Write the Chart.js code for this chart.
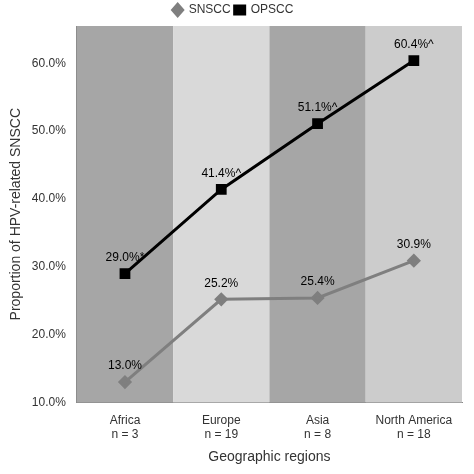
<!DOCTYPE html>
<html>
<head>
<meta charset="utf-8">
<script src="https://cdn.jsdelivr.net/npm/chart.js@4"></script>
<style>
  html, body { margin: 0; padding: 0; background: #fff; }
  #wrap { width: 474px; height: 474px; }
</style>
</head>
<body>
<div id="wrap"><canvas id="c"></canvas></div>
<script>
// data
const regions = [['Africa', 'n = 3'], ['Europe', 'n = 19'], ['Asia', 'n = 8'], ['North America', 'n = 18']];
const snscc = [13.0, 25.2, 25.4, 30.9];
const opscc = [29.0, 41.4, 51.1, 60.4];
const opsccMarks = ['*', '^', '^', '^'];
const yTicks = [10, 20, 30, 40, 50, 60];
const bandColors = ['#a6a6a6', '#d9d9d9', '#a6a6a6', '#cccccc'];

// alternating background bands behind each category
const bandsPlugin = {
    id: 'bands',
    beforeDatasetsDraw(chart) {
        const { ctx, chartArea, scales } = chart;
        const x = scales.x;
        const step = x.getPixelForValue(1) - x.getPixelForValue(0);
        ctx.save();
        regions.forEach((r, i) => {
            const cx = x.getPixelForValue(i);
            ctx.fillStyle = bandColors[i];
            ctx.fillRect(cx - step / 2, chartArea.top, step, chartArea.bottom - chartArea.top);
        });
        ctx.restore();
    }
};

// percentage labels above points
const labelsPlugin = {
    id: 'pointLabels',
    afterDatasetsDraw(chart) {
        const { ctx } = chart;
        ctx.save();
        ctx.font = '12px "Liberation Sans", Arial, sans-serif';
        ctx.fillStyle = '#000';
        ctx.textAlign = 'center';
        ctx.textBaseline = 'bottom';
        chart.data.datasets.forEach((ds, di) => {
            chart.getDatasetMeta(di).data.forEach((pt, i) => {
                let txt = ds.data[i].toFixed(1) + '%';
                if (di === 1) txt += opsccMarks[i];
                ctx.fillText(txt, pt.x, pt.y - 10);
            });
        });
        ctx.restore();
    }
};

new Chart(document.getElementById('c'), {
    type: 'line',
    data: {
        labels: regions,
        datasets: [{
            label: 'SNSCC',
            data: snscc,
            borderColor: '#7f7f7f',
            backgroundColor: '#7f7f7f',
            borderWidth: 3,
            pointStyle: 'rectRot',
            pointRadius: 5,
            pointHoverRadius: 5
        }, {
            label: 'OPSCC',
            data: opscc,
            borderColor: '#000',
            backgroundColor: '#000',
            borderWidth: 3,
            pointStyle: 'rect',
            pointRadius: 5.5,
            pointHoverRadius: 5.5
        }]
    },
    options: {
        responsive: true,
        maintainAspectRatio: false,
        animation: false,
        layout: { padding: { top: 0, right: 12, left: 4, bottom: 4 } },
        plugins: {
            legend: {
                position: 'top',
                labels: {
                    usePointStyle: true,
                    pointStyleWidth: 10,
                    boxHeight: 8,
                    padding: 4,
                    font: { size: 12, family: '"Liberation Sans", Arial, sans-serif' },
                    color: '#333'
                }
            },
            tooltip: { enabled: false }
        },
        scales: {
            x: {
                offset: true,
                grid: { display: false },
                border: { color: '#888' },
                ticks: { color: '#333', font: { size: 12, family: '"Liberation Sans", Arial, sans-serif' } },
                title: { display: true, text: 'Geographic regions', color: '#333', font: { size: 14, family: '"Liberation Sans", Arial, sans-serif' } }
            },
            y: {
                min: 10,
                max: 65.5,
                afterBuildTicks(axis) { axis.ticks = yTicks.map(v => ({ value: v })); },
                grid: { display: false },
                border: { color: '#888' },
                ticks: { color: '#333', callback: v => v.toFixed(1) + '%', font: { size: 12, family: '"Liberation Sans", Arial, sans-serif' } },
                title: { display: true, text: 'Proportion of HPV-related SNSCC', color: '#333', font: { size: 14, family: '"Liberation Sans", Arial, sans-serif' } }
            }
        }
    },
    plugins: [bandsPlugin, labelsPlugin]
});
</script>
</body>
</html>
